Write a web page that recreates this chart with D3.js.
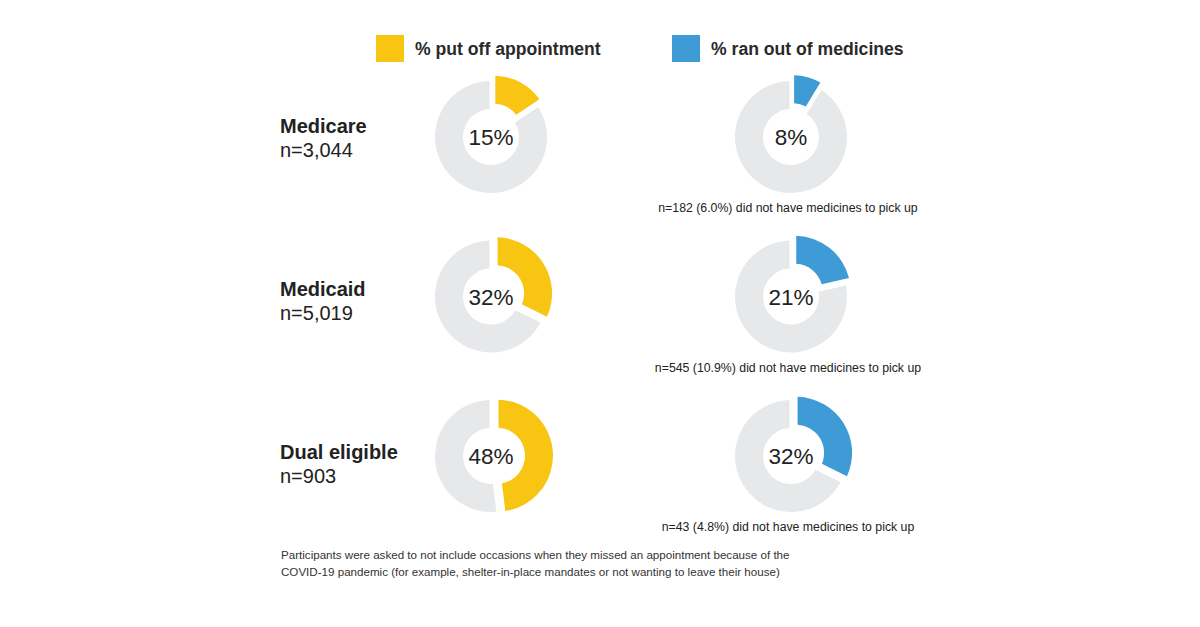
<!DOCTYPE html>
<html>
<head>
<meta charset="utf-8">
<script src="https://cdn.jsdelivr.net/npm/d3@7"></script>
<style>
  html, body { margin: 0; padding: 0; background: #fff; }
  svg { display: block; font-family: "Liberation Sans", Arial, sans-serif; }
</style>
</head>
<body>
<svg id="chart" width="1200" height="627"></svg>
<script>
// ---- Data ----
const groups = ["Medicare", "Medicaid", "Dual eligible"];
const groupN = ["n=3,044", "n=5,019", "n=903"];
const putOffAppointment = [15, 32, 48];
const ranOutOfMedicines = [8, 21, 32];
const medicineNotes = [
  "n=182 (6.0%) did not have medicines to pick up",
  "n=545 (10.9%) did not have medicines to pick up",
  "n=43 (4.8%) did not have medicines to pick up"
];
const seriesNames = ["% put off appointment", "% ran out of medicines"];
const footnote = [
  "Participants were asked to not include occasions when they missed an appointment because of the",
  "COVID-19 pandemic (for example, shelter-in-place mandates or not wanting to leave their house)"
];

// ---- Style ----
const colors = ["#F8C513", "#3E9BD6"];
const grey = "#E6E8EA";
const textColor = "#222";

const svg = d3.select("#chart");

// Layout scales
const xCol = d3.scalePoint().domain([0, 1]).range([491, 791]);
const yRow = d3.scalePoint().domain(groups).range([137, 456]);
const yLabel = d3.scalePoint().domain(groups).range([130, 456]);

const outerR = 56, innerR = 28, explode = 6;
const arc = d3.arc().innerRadius(innerR).outerRadius(outerR).padRadius(60);
const pie = d3.pie().sort(null).value(d => d.v).padAngle(0.05);

// Legend
const legendX = [376, 672];
seriesNames.forEach((name, i) => {
  const g = svg.append("g").attr("transform", `translate(${legendX[i]},35)`);
  g.append("rect").attr("width", 28).attr("height", 27).attr("fill", colors[i]);
  g.append("text").attr("x", 39).attr("y", 20)
    .attr("font-size", 17.6).attr("font-weight", "bold").attr("fill", "#2a2a2a")
    .text(name);
});

// Row labels
groups.forEach((gName, r) => {
  const y = yLabel(gName);
  svg.append("text").attr("x", 280).attr("y", y + 3)
    .attr("font-size", 20).attr("font-weight", "bold").attr("fill", textColor).text(gName);
  svg.append("text").attr("x", 280).attr("y", y + 27)
    .attr("font-size", 20).attr("fill", textColor).text(groupN[r]);
});

// Donuts
const seriesData = [putOffAppointment, ranOutOfMedicines];
seriesData.forEach((vals, c) => {
  vals.forEach((v, r) => {
    const cx = xCol(c), cy = yRow(groups[r]);
    const g = svg.append("g").attr("transform", `translate(${cx},${cy})`);
    const slices = pie([{v: v, k: "value"}, {v: 100 - v, k: "rest"}]);
    g.selectAll("path").data(slices).join("path")
      .attr("d", arc)
      .attr("fill", d => d.data.k === "value" ? colors[c] : grey)
      .attr("transform", d => {
        if (d.data.k !== "value") return null;
        const mid = (d.startAngle + d.endAngle) / 2;
        return `translate(${Math.sin(mid) * explode},${-Math.cos(mid) * explode})`;
      });
    g.append("text").attr("text-anchor", "middle").attr("y", 8)
      .attr("font-size", 22.5).attr("fill", textColor).text(v + "%");
    if (c === 1) {
      svg.append("text").attr("x", cx - 3).attr("y", cy + 75)
        .attr("text-anchor", "middle").attr("font-size", 12.3).attr("fill", textColor)
        .text(medicineNotes[r]);
    }
  });
});

// Footnote
footnote.forEach((line, i) => {
  svg.append("text").attr("x", 281).attr("y", 559 + i * 17)
    .attr("font-size", 11.6).attr("fill", "#333").text(line);
});
</script>
</body>
</html>
